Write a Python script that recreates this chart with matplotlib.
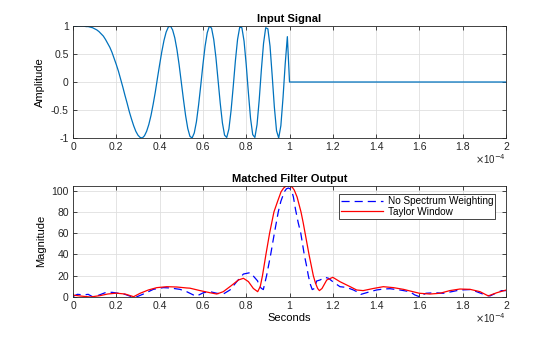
import numpy as np
import matplotlib
matplotlib.use("Agg")
import matplotlib.pyplot as plt
from matplotlib.ticker import FuncFormatter, MultipleLocator

plt.rcParams['font.family'] = ['Liberation Sans', 'DejaVu Sans']
plt.rcParams['axes.unicode_minus'] = False

# ---------------- Data ----------------
# Input signal: one sample per microsecond during the 100 us pulse
input_amp = [
    1.00, 1.00, 1.00, 1.00, 1.00, 1.00, 0.99, 0.99, 0.98, 0.97,
    0.95, 0.93, 0.90, 0.86, 0.82, 0.76, 0.69, 0.62, 0.53, 0.42,
    0.31, 0.19, 0.05, -0.09, -0.24, -0.38, -0.53, -0.66, -0.78, -0.88,
    -0.95, -0.99, -1.00, -0.96, -0.88, -0.76, -0.60, -0.40, -0.18, 0.07,
    0.31, 0.54, 0.74, 0.89, 0.98, 1.00, 0.93, 0.79, 0.58, 0.31,
    0.00, -0.31, -0.60, -0.83, -0.97, -1.00, -0.91, -0.71, -0.41, -0.06,
    0.31, 0.64, 0.88, 1.00, 0.96, 0.76, 0.44, 0.03, -0.38, -0.73,
    -0.95, -0.99, -0.84, -0.51, -0.08, 0.38, 0.76, 0.98, 0.97, 0.73,
    0.31, -0.19, -0.65, -0.94, -0.99, -0.76, -0.32, 0.22, 0.69, 0.97,
    0.95, 0.64, 0.11, -0.45, -0.87, -1.00, -0.78, -0.28, 0.32, 0.81,
]
# after the pulse the signal is off
off_time_us = [100, 200]
off_amp = [0.0, 0.0]

# Matched filter output (time in microseconds, magnitude)
taylor_t = [0, 3, 8, 12.5, 16, 20, 24, 28, 31, 34.8, 38.7, 43.3, 47.9, 52.5, 54,
            58.7, 63.3, 66.4, 69.4, 73.3, 76.4, 78.7, 81, 83.3, 85.3,
            86.5, 87.5, 89.1, 90.8, 92.8, 94.5, 96.1, 97.3, 98.3, 99.3, 100.3,
            101.3, 102.2, 103.5,
            105.3, 106.3, 107.2, 108.1, 109, 110, 111, 112, 113, 113.8, 115,
            117.2, 120, 123.3, 128, 131, 134, 138.7, 143.3, 148, 152.6, 157,
            160, 164.9, 169.5, 174, 178.7, 183.4, 188, 191.8, 195.7, 200]
taylor_mag = [1.8, 1.0, 0.0, 1.3, 2.8, 3.6, 2.8, 0.3, 3.5, 6.6, 8.8, 9.7, 9.4, 8.5, 8.3,
              6.0, 4.0, 2.8, 5.0, 11, 16, 17.6, 14.5, 8, 5,
              10, 20, 40, 60, 80, 90, 99, 102.5, 104.2, 104.7, 104.4,
              103.2, 100.5, 94,
              80, 70, 60, 50, 40, 30, 20, 13, 8, 6, 8,
              16, 18.5, 14.4, 9.7, 6.6, 6.0, 8, 9.7, 8.8, 7.2, 5,
              3.5, 2.8, 3.5, 6, 7.5, 7.2, 5, 1, 4, 6.5]

noweight_t = [0, 2, 5, 7, 9, 11, 14.8, 18, 21, 24, 27, 29.6, 33.3, 37.1, 41.7, 44.8,
              49.4, 52.5, 55.6, 57.1, 60.2, 63.3, 66.4, 69.4, 72.5, 75.6, 78.7,
              81.8, 83.6, 85.3, 85.6, 87.1, 87.9, 89.4, 91.3, 93.0, 94.8, 96,
              97.6, 98.6, 99.5, 100.4, 101.2, 101.8, 102.8, 104, 105.2, 106.8, 107.8, 108.7,
              109.6, 110.5, 111.5, 112.5, 114.1, 116.4, 118, 120, 123.3, 126.4,
              129.5, 132.6, 133, 137.2, 140.2, 143.3, 146.4, 151, 155.6, 157.8,
              160, 163, 167.2, 171, 174.9, 178.7, 183.4, 186.4, 190.3, 192.6,
              195.7, 198, 200]
noweight_mag = [0.5, 2.5, 2.0, 2.5, 0.3, 1.0, 4.0, 4.4, 3.5, 2.5, 0.3, 0.3, 3.5, 7.2, 8.8, 8.5,
                7.2, 5.0, 1.9, 0.9, 4.0, 5.0, 3.5, 2.8, 6.6, 14.4, 21.6,
                22.9, 19, 15, 11, 8, 7, 20, 40, 60, 80, 90,
                99, 101.8, 102.5, 101.6, 98.5, 94, 82, 70, 60, 40, 30, 20,
                12, 7, 8, 15, 16, 18.5, 17.6, 14.4, 9.7, 9,
                6.6, 3.5, 2.5, 5, 6.6, 7.5, 7.8, 6.6, 5, 2,
                0.3, 3.5, 4, 3.5, 5, 6.6, 7, 5, 2, 1,
                4, 6, 6]

legend_labels = ['No Spectrum Weighting', 'Taylor Window']
x_ticks_e4 = [0, 0.2, 0.4, 0.6, 0.8, 1.0, 1.2, 1.4, 1.6, 1.8, 2.0]

# ---------------- Figure ----------------
fig = plt.figure(figsize=(5.6, 3.37), dpi=100)
ax1 = fig.add_axes([0.1304, 0.5905, 0.7732, 0.3323])
ax2 = fig.add_axes([0.1304, 0.1187, 0.7732, 0.3303])

edge = '#262626'
grid_c = '#dfdfdf'
tick_fs = 7.5


def style(ax):
    ax.set_xlim(0, 2e-4)
    ax.set_xticks([v * 1e-4 for v in x_ticks_e4])
    ax.xaxis.set_major_formatter(FuncFormatter(lambda v, p: f"{v / 1e-4:g}"))
    ax.grid(True, color=grid_c, linewidth=0.6)
    ax.set_axisbelow(True)
    for s in ax.spines.values():
        s.set_color(edge)
        s.set_linewidth(0.6)
    ax.tick_params(direction='in', length=3, width=0.6, colors=edge,
                   labelsize=tick_fs, top=True, right=True, pad=3)
    ax.text(1.0, -0.13, r'$\times$10$^{-4}$', transform=ax.transAxes,
            ha='right', va='top', fontsize=7, color=edge)


t_in = np.arange(len(input_amp)) * 1e-6
t_all = np.concatenate([t_in, np.array(off_time_us) * 1e-6])
amp_all = np.concatenate([input_amp, off_amp])
ax1.plot(t_all, amp_all, color='#0072BD', linewidth=0.9)
ax1.set_ylim(-1, 1)
ax1.yaxis.set_major_locator(MultipleLocator(0.5))
ax1.yaxis.set_major_formatter(FuncFormatter(lambda v, p: f"{v:g}"))
style(ax1)
ax1.set_title('Input Signal', fontsize=8, fontweight='bold', pad=3, color='#000000')
ax1.set_ylabel('Amplitude', fontsize=8, labelpad=4)

ax2.plot(np.array(noweight_t) * 1e-6, noweight_mag, color='#0000FF', linewidth=0.9,
         linestyle=(0, (6.5, 4)), label=legend_labels[0])
ax2.plot(np.array(taylor_t) * 1e-6, taylor_mag, color='#FF0000', linewidth=0.9,
         label=legend_labels[1])
ax2.set_ylim(0, max(taylor_mag))
ax2.set_yticks([0, 20, 40, 60, 80, 100])
style(ax2)
ax2.set_title('Matched Filter Output', fontsize=8, fontweight='bold', pad=3, color='#000000')
ax2.set_ylabel('Magnitude', fontsize=8, labelpad=4)
ax2.set_xlabel('Seconds', fontsize=8, labelpad=1)
leg = ax2.legend(loc='upper right', bbox_to_anchor=(0.975, 0.925), borderaxespad=0,
                 fontsize=7.2, fancybox=False, framealpha=1, edgecolor=edge,
                 handlelength=4.2, handletextpad=0.5, borderpad=0.2, labelspacing=0.05)
leg.get_frame().set_linewidth(0.6)

fig.savefig('out.png', dpi=100)
